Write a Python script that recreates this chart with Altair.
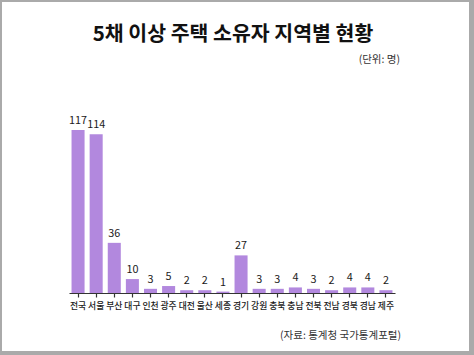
import altair as alt
import pandas as pd

regions = ["전국", "서울", "부산", "대구", "인천", "광주", "대전", "울산", "세종",
           "경기", "강원", "충북", "충남", "전북", "전남", "경북", "경남", "제주"]
owners = [117, 114, 36, 10, 3, 5, 2, 2, 1, 27, 3, 3, 4, 3, 2, 4, 4, 2]

title_text = "5채 이상 주택 소유자 지역별 현황"
unit_text = "(단위: 명)"
source_text = "(자료: 통계청 국가통계포털)"

df = pd.DataFrame({"region": regions, "owners": owners})
one = pd.DataFrame({"title": [title_text], "unit": [unit_text], "source": [source_text]})

FONT = "Noto Sans CJK KR"
W, H = 326, 163
PL, PT = 69, 130
TOTAL_W, TOTAL_H = 474, 355

x = alt.X("region:N", sort=regions,
          scale=alt.Scale(paddingInner=0.28, paddingOuter=0.14),
          axis=alt.Axis(title=None, labelAngle=0, labelFont=FONT, labelFontSize=8.8,
                        labelFontWeight=500,
                        labelColor="#1a1a1a", labelPadding=4, domainColor="#333333",
                        tickColor="#333333", tickSize=4, domainWidth=1.2, tickWidth=1.2,
                        grid=False, zindex=1))
y = alt.Y("owners:Q", scale=alt.Scale(domain=[0, 117], nice=False),
          axis=None)

frame = alt.Chart(one).mark_rect(color="white").encode(
    x=alt.value(2 - PL), x2=alt.value(469 - PL),
    y=alt.value(2 - PT), y2=alt.value(351 - PT)
)

base = alt.Chart(df)
bars = base.mark_bar(color="#b288de").encode(x=x, y=y)
labels = base.mark_text(baseline="bottom", dy=-4, font=FONT, fontSize=10.8,
                        color="#1a1a1a").encode(x=x, y=y, text="owners:Q")

title = alt.Chart(one).mark_text(font=FONT, fontSize=20.5, fontWeight="bold",
                                 color="#111111", align="center", baseline="middle").encode(
    x=alt.value(233 - PL), y=alt.value(35 - PT), text="title:N")
unit = alt.Chart(one).mark_text(font=FONT, fontSize=10.5, color="#333333",
                                align="right", baseline="middle").encode(
    x=alt.value(400 - PL), y=alt.value(60 - PT), text="unit:N")
source = alt.Chart(one).mark_text(font=FONT, fontSize=10.5, color="#333333",
                                  align="right", baseline="middle").encode(
    x=alt.value(401 - PL), y=alt.value(336 - PT), text="source:N")

chart = alt.layer(frame, bars, labels, title, unit, source).properties(
    width=W, height=H,
    padding={"left": PL, "top": PT, "right": TOTAL_W - PL - W, "bottom": TOTAL_H - PT - H},
    autosize=alt.AutoSizeParams(type="none"),
    background="#aaaaaa",
).configure_view(stroke=None)

chart.save("out.html", embed_options={"renderer": "svg", "actions": False})
